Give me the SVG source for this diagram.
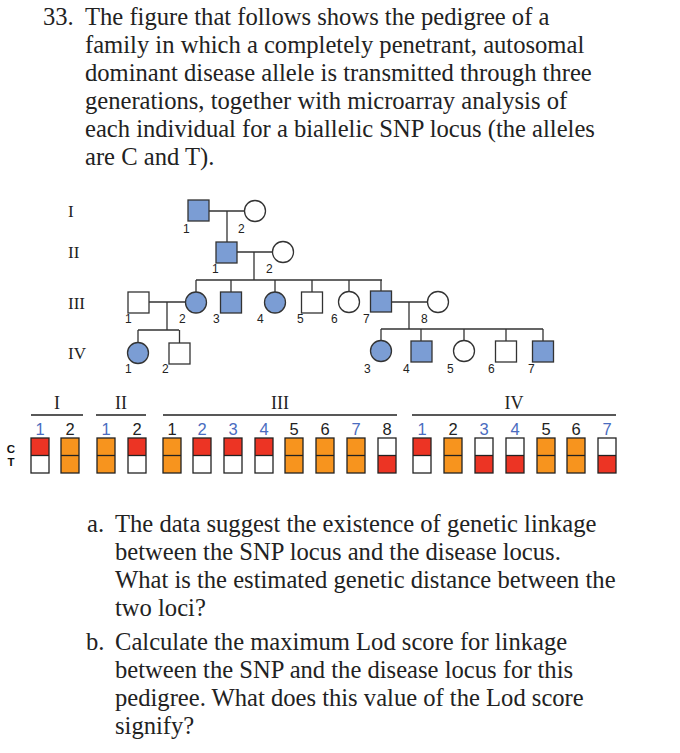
<svg xmlns="http://www.w3.org/2000/svg" width="680" height="753" viewBox="0 0 680 753">
<style>
.q{font-family:"Liberation Serif","Times New Roman",serif;font-size:24.6px;fill:#222}
.rn{font-family:"Liberation Serif","Times New Roman",serif;font-size:17px;fill:#222}
.rg{font-family:"Liberation Serif","Times New Roman",serif;font-size:18px;fill:#222;text-anchor:middle}
.pl{font-family:"Liberation Sans",Arial,sans-serif;font-size:12px;fill:#222}
.ml{font-family:"Liberation Sans",Arial,sans-serif;font-size:16.5px;fill:#222;text-anchor:middle}
.b{fill:#4a6cc0}
.ct{font-family:"Liberation Sans",Arial,sans-serif;font-size:11.5px;font-weight:bold;fill:#111;text-anchor:middle}
.aff{fill:#7b9dd4;stroke:#333;stroke-width:1.3}
.un{fill:#fff;stroke:#333;stroke-width:1.3}
.ln{stroke:#333;stroke-width:1.3;fill:none}
.bar{stroke:#222;stroke-width:1.5}
.R{fill:#ec3424}.O{fill:#f7941e}.W{fill:#fff}
.bx{fill:none;stroke:#222;stroke-width:1.3}
</style>
<g id="question">
<text class="q" x="43" y="25">33.</text>
<text class="q" x="85" y="25">The figure that follows shows the pedigree of a</text>
<text class="q" x="85" y="53">family in which a completely penetrant, autosomal</text>
<text class="q" x="85" y="81">dominant disease allele is transmitted through three</text>
<text class="q" x="85" y="109">generations, together with microarray analysis of</text>
<text class="q" x="85" y="137">each individual for a biallelic SNP locus (the alleles</text>
<text class="q" x="85" y="165">are C and T).</text>
</g>
<g id="gen-labels">
<text class="rn" x="68" y="217">I</text>
<text class="rn" x="68" y="258">II</text>
<text class="rn" x="68" y="309">III</text>
<text class="rn" x="68" y="359">IV</text>
</g>
<g id="connectors">
<path class="ln" d="M209,211H244M227,211V242"/>
<path class="ln" d="M237,252H272M254,252V280M196,280H382M196,280V292M231,280V292M275,280V292M312,280V292M349,280V292M381,280V291"/>
<path class="ln" d="M149,302H185M167,302V330M138,330H179M138,330V342M179.5,330V343"/>
<path class="ln" d="M391,302H427M409,302V329M381,329H543M381,329V340M421,329V341M464,329V340M506,329V341M543,329V341"/>
</g>
<g id="I-1"><rect class="aff" x="188" y="200" width="21" height="21"/><text class="pl" x="183" y="233">1</text></g>
<g id="I-2"><circle class="un" cx="255" cy="211" r="10.5"/><text class="pl" x="238" y="233">2</text></g>
<g id="II-1"><rect class="aff" x="216" y="242" width="21" height="21"/><text class="pl" x="212" y="273">1</text></g>
<g id="II-2"><circle class="un" cx="283" cy="252" r="10.5"/><text class="pl" x="266" y="273">2</text></g>
<g id="III-1"><rect class="un" x="128" y="292" width="21" height="21"/><text class="pl" x="125" y="323">1</text></g>
<g id="III-2"><circle class="aff" cx="196" cy="302.5" r="10.5"/><text class="pl" x="179" y="323">2</text></g>
<g id="III-3"><rect class="aff" x="220.5" y="292" width="21" height="21"/><text class="pl" x="213" y="323">3</text></g>
<g id="III-4"><circle class="aff" cx="275" cy="302.5" r="10.5"/><text class="pl" x="257" y="323">4</text></g>
<g id="III-5"><rect class="un" x="301.5" y="292" width="21" height="21"/><text class="pl" x="297" y="323">5</text></g>
<g id="III-6"><circle class="un" cx="349" cy="302" r="10.5"/><text class="pl" x="331" y="323">6</text></g>
<g id="III-7"><rect class="aff" x="370.5" y="291" width="21" height="21"/><text class="pl" x="363" y="323">7</text></g>
<g id="III-8"><circle class="un" cx="438" cy="302" r="10.5"/><text class="pl" x="421" y="323">8</text></g>
<g id="IV-1"><circle class="aff" cx="138" cy="353" r="10.5"/><text class="pl" x="125" y="373">1</text></g>
<g id="IV-2"><rect class="un" x="169" y="343" width="21" height="21"/><text class="pl" x="162" y="373">2</text></g>
<g id="IV-3"><circle class="aff" cx="381" cy="351" r="10.5"/><text class="pl" x="364" y="373">3</text></g>
<g id="IV-4"><rect class="aff" x="411" y="341" width="21" height="21"/><text class="pl" x="403" y="373">4</text></g>
<g id="IV-5"><circle class="un" cx="464" cy="351" r="10.5"/><text class="pl" x="447" y="373">5</text></g>
<g id="IV-6"><rect class="un" x="495.5" y="341" width="21" height="21"/><text class="pl" x="488" y="373">6</text></g>
<g id="IV-7"><rect class="aff" x="532.5" y="341" width="21" height="21"/><text class="pl" x="528" y="373">7</text></g>
<g id="microarray">
<text class="rg" x="57" y="409">I</text>
<text class="rg" x="121" y="409">II</text>
<text class="rg" x="280" y="409">III</text>
<text class="rg" x="514" y="409">IV</text>
<path class="bar" d="M31,415H83M96,415H146M163,415H397M412,415H616"/>
<text class="ct" x="11" y="453">C</text>
<text class="ct" x="11" y="466">T</text>
<defs>
<g id="RW"><rect class="R" x="0" y="0" width="18" height="17.5"/><rect class="W" x="0" y="17.5" width="18" height="17.5"/><rect class="bx" x="0" y="0" width="18" height="35"/><path class="bx" d="M0,17.5H18"/></g>
<g id="OO"><rect class="O" x="0" y="0" width="18" height="35"/><rect class="bx" x="0" y="0" width="18" height="35"/><path class="bx" d="M0,17.5H18"/></g>
<g id="WR"><rect class="W" x="0" y="0" width="18" height="17.5"/><rect class="R" x="0" y="17.5" width="18" height="17.5"/><rect class="bx" x="0" y="0" width="18" height="35"/><path class="bx" d="M0,17.5H18"/></g>
</defs>
<g transform="translate(0,438)">
<use href="#RW" x="31"/><use href="#OO" x="61"/>
<use href="#OO" x="97"/><use href="#RW" x="128"/>
<use href="#OO" x="163"/><use href="#RW" x="193"/><use href="#RW" x="224"/><use href="#RW" x="255"/><use href="#OO" x="285"/><use href="#OO" x="316"/><use href="#OO" x="347"/><use href="#WR" x="378"/>
<use href="#RW" x="413"/><use href="#OO" x="444"/><use href="#WR" x="475"/><use href="#WR" x="506"/><use href="#OO" x="537"/><use href="#OO" x="567"/><use href="#WR" x="598"/>
</g>
<text class="ml b" x="40" y="435">1</text><text class="ml" x="70" y="435">2</text>
<text class="ml b" x="106" y="435">1</text><text class="ml" x="137" y="435">2</text>
<text class="ml" x="172" y="435">1</text><text class="ml b" x="202" y="435">2</text><text class="ml b" x="233" y="435">3</text><text class="ml b" x="264" y="435">4</text><text class="ml" x="294" y="435">5</text><text class="ml" x="325" y="435">6</text><text class="ml b" x="356" y="435">7</text><text class="ml" x="387" y="435">8</text>
<text class="ml b" x="422" y="435">1</text><text class="ml" x="453" y="435">2</text><text class="ml b" x="484" y="435">3</text><text class="ml b" x="515" y="435">4</text><text class="ml" x="546" y="435">5</text><text class="ml" x="576" y="435">6</text><text class="ml b" x="607" y="435">7</text>
</g>
<g id="parts">
<text class="q" x="87" y="532">a.</text>
<text class="q" x="115" y="532">The data suggest the existence of genetic linkage</text>
<text class="q" x="115" y="560">between the SNP locus and the disease locus.</text>
<text class="q" x="115" y="588">What is the estimated genetic distance between the</text>
<text class="q" x="115" y="616">two loci?</text>
<text class="q" x="86" y="650">b.</text>
<text class="q" x="115" y="650">Calculate the maximum Lod score for linkage</text>
<text class="q" x="115" y="678">between the SNP and the disease locus for this</text>
<text class="q" x="115" y="706">pedigree. What does this value of the Lod score</text>
<text class="q" x="115" y="734">signify?</text>
</g>
</svg>
